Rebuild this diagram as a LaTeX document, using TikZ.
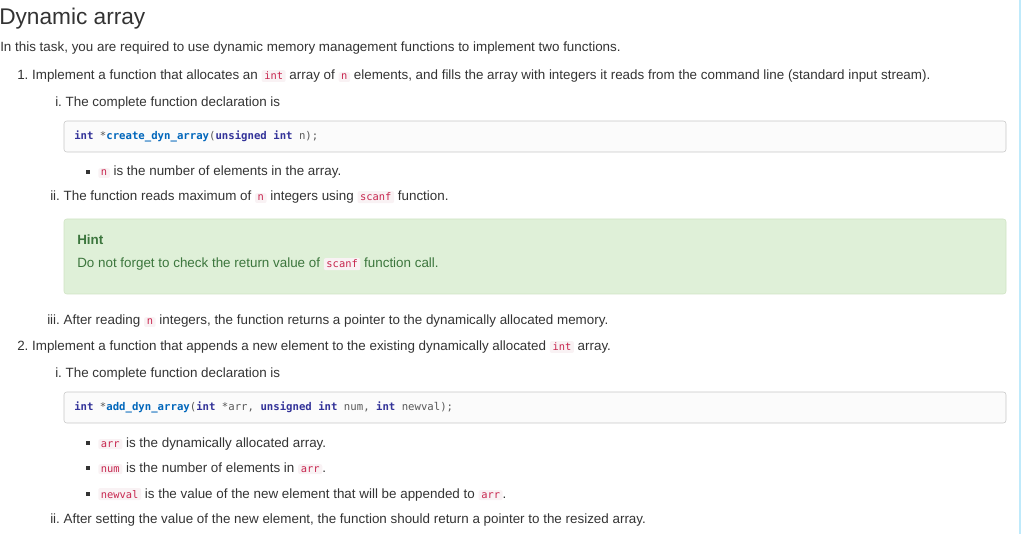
\documentclass[tikz,border=0pt]{standalone}
\usepackage{fontspec}
\setmainfont{Liberation Sans}
\setmonofont{DejaVu Sans Mono}
\definecolor{txt}{HTML}{333333}
\definecolor{codered}{HTML}{C7254E}
\definecolor{codebg}{HTML}{F9F2F4}
\definecolor{kw}{HTML}{333399}
\definecolor{fn}{HTML}{0066BB}
\definecolor{hintbg}{HTML}{DFF0D8}
\definecolor{hintbd}{HTML}{D0E3C4}
\definecolor{hinttx}{HTML}{3C763D}
\newcommand{\cd}[1]{\tikz[baseline=(c.base)]\node[fill=codebg,rounded corners=1.5pt,inner xsep=2pt,inner ysep=1.5pt,text=codered,font=\ttfamily\fontsize{7.8}{9}\selectfont](c){#1};}
\newcommand{\kwd}[1]{\textcolor{kw}{\bfseries #1}}
\newcommand{\fnm}[1]{\textcolor{fn}{\bfseries #1}}
\tikzset{
 t/.style={anchor=base west,inner sep=0pt,text=txt,font=\fontsize{10.05}{12}\selectfont},
 codebox/.style={draw=black!22,fill=black!1.5,rounded corners=2pt},
 codetxt/.style={anchor=base west,inner sep=0pt,text=black!65,font=\ttfamily\fontsize{8.0}{9}\selectfont},
 sq/.style={fill=txt,minimum size=3.2pt,inner sep=0pt}
}
\begin{document}
\begin{tikzpicture}[x=0.75pt,y=-0.75pt]
\useasboundingbox (0,0) rectangle (1024,534);
\draw[draw=cyan!25,line width=1pt] (1020,0) coordinate(l1) -- (1020,534) coordinate(l2);
\node[t,font=\fontsize{17}{20}\selectfont] (title) at (-1,25) {Dynamic array};
\node[t] (intro) at (0,52) {In this task, you are required to use dynamic memory management functions to implement two functions.};
\node[t] (p1) at (17,80) {1.\ Implement a function that allocates an \cd{int} array of \cd{n} elements, and fills the array with integers it reads from the command line (standard input stream).};
\node[t] (p1i) at (55,107) {i.\ The complete function declaration is};
\draw[codebox] (64,121) rectangle (1006,152);
\node[codetxt] (c1) at (74,140) {\kwd{int} *\fnm{create\_dyn\_array}(\kwd{unsigned} \kwd{int} n);};
\node[sq] (b1) at (88,172) {};
\node[t] (b1t) at (98,176) {\cd{n} is the number of elements in the array.};
\node[t] (p1ii) at (50,201) {ii.\ The function reads maximum of \cd{n} integers using \cd{scanf} function.};
\draw[fill=hintbg,draw=hintbd,rounded corners=2pt] (64,219) rectangle (1006,294);
\node[t,text=hinttx,font=\bfseries\fontsize{10.05}{12}\selectfont] (hint) at (77,245) {Hint};
\node[t,text=hinttx] (hintt) at (77,268) {Do not forget to check the return value of \cd{scanf} function call.};
\node[t] (p1iii) at (47,325) {iii.\ After reading \cd{n} integers, the function returns a pointer to the dynamically allocated memory.};
\node[t] (p2) at (17,351) {2.\ Implement a function that appends a new element to the existing dynamically allocated \cd{int} array.};
\node[t] (p2i) at (55,378) {i.\ The complete function declaration is};
\draw[codebox] (64,392) rectangle (1006,423);
\node[codetxt] (c2) at (74,411) {\kwd{int} *\fnm{add\_dyn\_array}(\kwd{int} *arr, \kwd{unsigned} \kwd{int} num, \kwd{int} newval);};
\node[sq] (b2) at (88,443) {};
\node[t] (b2t) at (98,447) {\cd{arr} is the dynamically allocated array.};
\node[sq] (b3) at (88,468) {};
\node[t] (b3t) at (98,472) {\cd{num} is the number of elements in \cd{arr}.};
\node[sq] (b4) at (88,494) {};
\node[t] (b4t) at (98,498) {\cd{newval} is the value of the new element that will be appended to \cd{arr}.};
\node[t] (p2ii) at (50,523) {ii.\ After setting the value of the new element, the function should return a pointer to the resized array.};
\end{tikzpicture}
\end{document}
